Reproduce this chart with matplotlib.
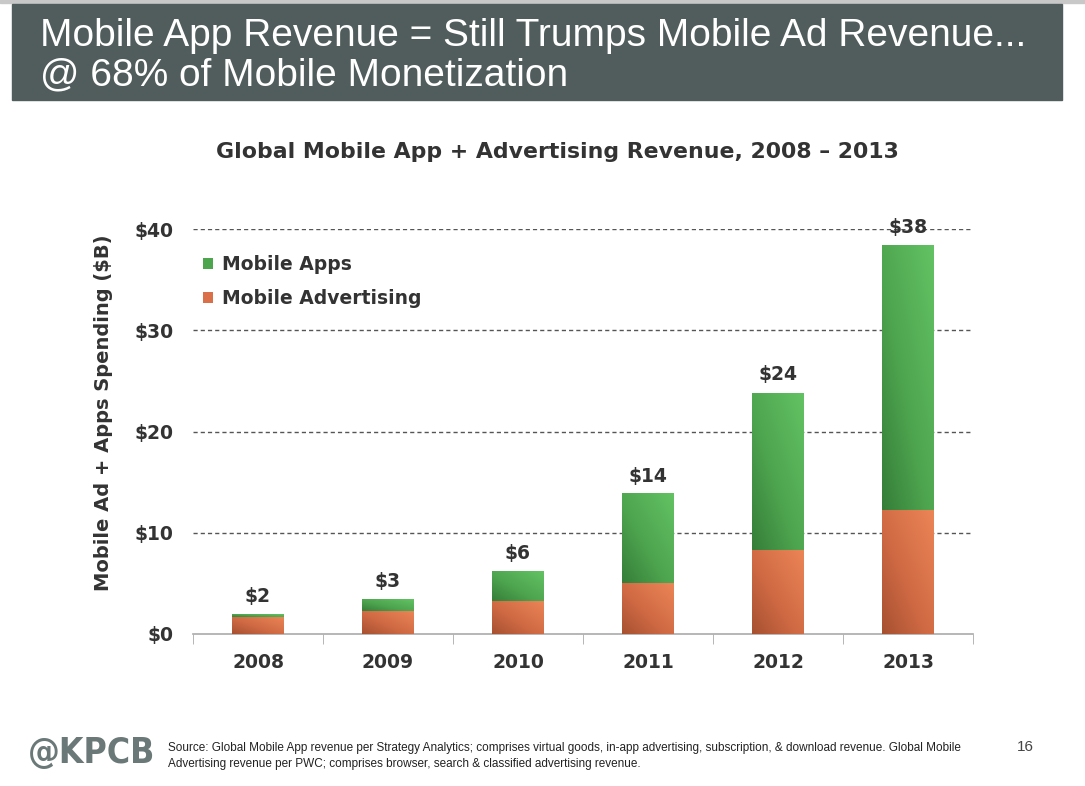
import matplotlib
matplotlib.use("Agg")
import matplotlib.pyplot as plt
from matplotlib.patches import Rectangle
from matplotlib.colors import LinearSegmentedColormap
import numpy as np

years = ["2008", "2009", "2010", "2011", "2012", "2013"]
mobile_ads = [1.7, 2.3, 3.3, 5.0, 8.3, 12.2]
mobile_apps = [0.2, 1.1, 2.9, 8.8, 15.5, 26.1]
totals = [1.9, 3.4, 6.2, 13.8, 23.8, 38.3]
total_labels = ["$2", "$3", "$6", "$14", "$24", "$38"]
yticks = [0, 10, 20, 30, 40]
ytick_labels = ["$0", "$10", "$20", "$30", "$40"]

plt.rcParams['font.family'] = ['DejaVu Sans']
W, H = 1085, 786
fig = plt.figure(figsize=(W/100, H/100), dpi=100)
fig.patch.set_facecolor("white")
TXT = "#333333"

# Banner
fig.patches.append(Rectangle((0, 1-3/H), 1, 3/H, transform=fig.transFigure, color="#c8c8c8", zorder=0))
fig.patches.append(Rectangle((12/W, 1-100/H), 1050/W, 96/H, transform=fig.transFigure, color="#515d5c", zorder=1))
fig.text(40/W, 1-46/H, "Mobile App Revenue = Still Trumps Mobile Ad Revenue...", color="white",
         fontsize=28, va="baseline", ha="left", family="Liberation Sans")
fig.text(40/W, 1-85/H, "@ 68% of Mobile Monetization", color="white",
         fontsize=28, va="baseline", ha="left", family="Liberation Sans")

# Axes
left, right, top, bottom = 193, 973, 229, 634
ax = fig.add_axes([left/W, 1-bottom/H, (right-left)/W, (bottom-top)/H])
x = np.arange(len(years))
green_cmap = LinearSegmentedColormap.from_list("g", ["#2f7433", "#4ea54f", "#63c263"])
orange_cmap = LinearSegmentedColormap.from_list("o", ["#9c4a2c", "#d06a44", "#ec8556"])
bars_ads = ax.bar(x, mobile_ads, width=0.4, color="#d9704a", label="Mobile Advertising", zorder=3)
bars_apps = ax.bar(x, mobile_apps, width=0.4, bottom=mobile_ads, color="#4da64d", label="Mobile Apps", zorder=3)

gu, gv = np.meshgrid(np.linspace(0, 1, 60), np.linspace(0, 1, 120))
grad = 0.1 + 0.9 * (gu + gv) / 2
for bars, cmap in ((bars_ads, orange_cmap), (bars_apps, green_cmap)):
    for p in bars:
        bx, by = p.get_x(), p.get_y()
        bw, bh = p.get_width(), p.get_height()
        ax.imshow(grad, extent=(bx, bx + bw, by, by + bh), origin="lower", aspect="auto",
                  cmap=cmap, vmin=0, vmax=1, zorder=3.5, interpolation="bilinear")

for xi, t, lab in zip(x, totals, total_labels):
    ax.text(xi, t + 1.8, lab, ha="center", va="center", fontsize=13.5, fontweight="bold", color=TXT, zorder=4)

ax.set_xlim(-0.5, len(years)-0.5)
ax.set_ylim(0, 40)
ax.set_yticks(yticks)
ax.set_yticklabels(ytick_labels, fontsize=13.5, fontweight="bold", color=TXT)
ax.set_xticks(x)
ax.set_xticklabels(years, fontsize=13.5, fontweight="bold", color=TXT)
ax.tick_params(axis="x", length=0, pad=13.5)
ax.tick_params(axis="y", length=0, pad=14)
ax.set_xticks(np.arange(-0.5, len(years)), minor=True)
ax.tick_params(axis="x", which="minor", length=7, color="#aaaaaa", direction="out")
for yv in yticks[1:]:
    ax.axhline(yv, color="#555555", linestyle=(0, (3, 2.2)), linewidth=1.0, zorder=1)
for s in ["top", "right", "left"]:
    ax.spines[s].set_visible(False)
ax.spines["bottom"].set_color("#aaaaaa")
ax.spines["bottom"].set_linewidth(1.2)
ax.set_ylabel("Mobile Ad + Apps Spending ($B)", fontsize=14, fontweight="bold", color=TXT)
ax.yaxis.set_label_coords((113-left)/(right-left), 1-(413-top)/(bottom-top))

handles, labels = ax.get_legend_handles_labels()
leg = ax.legend(handles[::-1], labels[::-1], loc="upper left",
                bbox_to_anchor=((203-left)/(right-left), 1-(266-229-11)/(bottom-top)), frameon=False,
                prop={"size": 13.5, "weight": "bold"}, handlelength=0.55, handleheight=0.55,
                handletextpad=0.45, labelspacing=0.8, borderaxespad=0, borderpad=0)
for t in leg.get_texts():
    t.set_color(TXT)

fig.text(557/W, 1-152/H, "Global Mobile App + Advertising Revenue, 2008 \u2013 2013", ha="center", va="center",
         fontsize=15.8, fontweight="bold", color=TXT)

# Footer
fig.text(28/W, 1-763/H, "@KPCB", fontsize=25.5, fontweight="bold", fontstretch="condensed", color="#6b7878",
         va="baseline", ha="left")
fig.text(168/W, 1-748/H, "Source: Global Mobile App revenue per Strategy Analytics; comprises virtual goods, in-app advertising, subscription, & download revenue. Global Mobile",
         fontsize=8.5, color="#222222", va="center", ha="left", family="Liberation Sans")
fig.text(168/W, 1-764/H, "Advertising revenue per PWC; comprises browser, search & classified advertising revenue.",
         fontsize=8.5, color="#222222", va="center", ha="left", family="Liberation Sans")
fig.text(1025/W, 1-747/H, "16", fontsize=11, color="#444444", va="center", ha="center", family="Liberation Sans")

fig.savefig("out.png", dpi=100)
